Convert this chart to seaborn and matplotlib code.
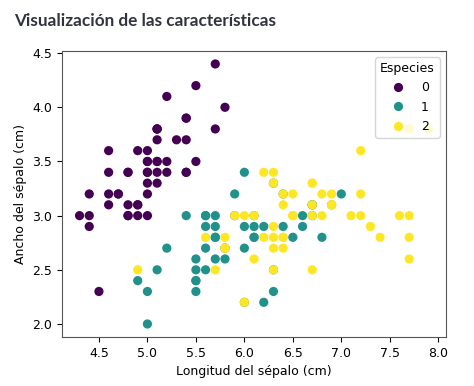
import matplotlib
matplotlib.use("Agg")
from matplotlib import pyplot as plt
import seaborn as sns
import pandas as pd

# iris sepal measurements, grouped by species (0, 1, 2)
sepal_length_0 = [5.1, 4.9, 4.7, 4.6, 5.0, 5.4, 4.6, 5.0, 4.4, 4.9, 5.4, 4.8, 4.8, 4.3, 5.8, 5.7, 5.4,
                  5.1, 5.7, 5.1, 5.4, 5.1, 4.6, 5.1, 4.8, 5.0, 5.0, 5.2, 5.2, 4.7, 4.8, 5.4, 5.2, 5.5,
                  4.9, 5.0, 5.5, 4.9, 4.4, 5.1, 5.0, 4.5, 4.4, 5.0, 5.1, 4.8, 5.1, 4.6, 5.3, 5.0]
sepal_width_0 = [3.5, 3.0, 3.2, 3.1, 3.6, 3.9, 3.4, 3.4, 2.9, 3.1, 3.7, 3.4, 3.0, 3.0, 4.0, 4.4, 3.9,
                 3.5, 3.8, 3.8, 3.4, 3.7, 3.6, 3.3, 3.4, 3.0, 3.4, 3.5, 3.4, 3.2, 3.1, 3.4, 4.1, 4.2,
                 3.1, 3.2, 3.5, 3.6, 3.0, 3.4, 3.5, 2.3, 3.2, 3.5, 3.8, 3.0, 3.8, 3.2, 3.7, 3.3]
sepal_length_1 = [7.0, 6.4, 6.9, 5.5, 6.5, 5.7, 6.3, 4.9, 6.6, 5.2, 5.0, 5.9, 6.0, 6.1, 5.6, 6.7, 5.6,
                  5.8, 6.2, 5.6, 5.9, 6.1, 6.3, 6.1, 6.4, 6.6, 6.8, 6.7, 6.0, 5.7, 5.5, 5.5, 5.8, 6.0,
                  5.4, 6.0, 6.7, 6.3, 5.6, 5.5, 5.5, 6.1, 5.8, 5.0, 5.6, 5.7, 5.7, 6.2, 5.1, 5.7]
sepal_width_1 = [3.2, 3.2, 3.1, 2.3, 2.8, 2.8, 3.3, 2.4, 2.9, 2.7, 2.0, 3.0, 2.2, 2.9, 2.9, 3.1, 3.0,
                 2.7, 2.2, 2.5, 3.2, 2.8, 2.5, 2.8, 2.9, 3.0, 2.8, 3.0, 2.9, 2.6, 2.4, 2.4, 2.7, 2.7,
                 3.0, 3.4, 3.1, 2.3, 3.0, 2.5, 2.6, 3.0, 2.6, 2.3, 2.7, 3.0, 2.9, 2.9, 2.5, 2.8]
sepal_length_2 = [6.3, 5.8, 7.1, 6.3, 6.5, 7.6, 4.9, 7.3, 6.7, 7.2, 6.5, 6.4, 6.8, 5.7, 5.8, 6.4, 6.5,
                  7.7, 7.7, 6.0, 6.9, 5.6, 7.7, 6.3, 6.7, 7.2, 6.2, 6.1, 6.4, 7.2, 7.4, 7.9, 6.4, 6.3,
                  6.1, 7.7, 6.3, 6.4, 6.0, 6.9, 6.7, 6.9, 5.8, 6.8, 6.7, 6.7, 6.3, 6.5, 6.2, 5.9]
sepal_width_2 = [3.3, 2.7, 3.0, 2.9, 3.0, 3.0, 2.5, 2.9, 2.5, 3.6, 3.2, 2.7, 3.0, 2.5, 2.8, 3.2, 3.0,
                 3.8, 2.6, 2.2, 3.2, 2.8, 2.8, 2.7, 3.3, 3.2, 2.8, 3.0, 2.8, 3.0, 2.8, 3.8, 2.8, 2.8,
                 2.6, 3.0, 3.4, 3.1, 3.0, 3.1, 3.1, 3.1, 2.7, 3.2, 3.3, 3.0, 2.5, 3.0, 3.4, 3.0]

df = pd.DataFrame({
    'largo': sepal_length_0 + sepal_length_1 + sepal_length_2,
    'ancho': sepal_width_0 + sepal_width_1 + sepal_width_2,
    'especie': [0] * 50 + [1] * 50 + [2] * 50,
})

fig = plt.figure(figsize=(4.74, 3.86), dpi=100)
ax = fig.add_axes([0.131, 0.127, 0.81, 0.741])
sns.scatterplot(data=df, x='largo', y='ancho', hue='especie', palette='viridis',
                s=44, linewidth=0, ax=ax)
ax.set_xlabel('Longitud del sépalo (cm)', fontsize=9)
ax.set_ylabel('Ancho del sépalo (cm)', fontsize=9)
ax.tick_params(labelsize=9)
for sp in ax.spines.values():
    sp.set_color('#555555')
ax.legend(title='Especies', loc='upper right', fontsize=9, title_fontsize=9)

fig.text(0.03, 0.945, 'Visualización de las características', fontsize=12.3,
         fontweight='bold', color='#31333F', family='Lato', va='center')
fig.savefig('out.png', dpi=100)
